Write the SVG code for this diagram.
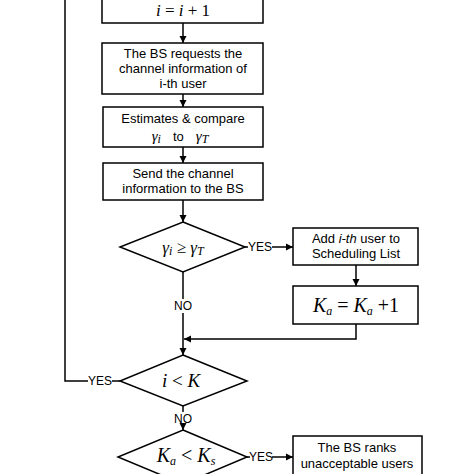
<svg xmlns="http://www.w3.org/2000/svg" width="474" height="474" viewBox="0 0 474 474">
<defs>
<marker id="ah" markerWidth="8" markerHeight="8" refX="7" refY="4" orient="auto" markerUnits="userSpaceOnUse">
<path d="M0,0.5 L7,4 L0,7.5 Z" fill="#000"/>
</marker>
<style>
.box{fill:#fff;stroke:#000;stroke-width:1.5}
.ln{fill:none;stroke:#000;stroke-width:1.5}
.t{font-family:"Liberation Sans",Arial,sans-serif;font-size:13px;text-anchor:middle;fill:#000}
.lb{font-family:"Liberation Sans",Arial,sans-serif;font-size:12px;text-anchor:middle;fill:#000}
.m{font-family:"Liberation Serif","Times New Roman",serif;font-size:19px;font-style:italic;text-anchor:middle;fill:#000}
.up{font-style:normal}
.sub{font-size:12px}
</style>
</defs>
<rect width="474" height="474" fill="#fff"/>
<g id="connectors">
<line class="ln" x1="183" y1="23" x2="183" y2="43" marker-end="url(#ah)"/>
<line class="ln" x1="183" y1="94" x2="183" y2="107" marker-end="url(#ah)"/>
<line class="ln" x1="183" y1="147" x2="183" y2="163" marker-end="url(#ah)"/>
<line class="ln" x1="183" y1="200" x2="183" y2="222" marker-end="url(#ah)"/>
<polyline class="ln" points="245,247 248,247"/>
<line class="ln" x1="272" y1="247" x2="293" y2="247" marker-end="url(#ah)"/>
<line class="ln" x1="356" y1="265" x2="356" y2="286" marker-end="url(#ah)"/>
<polyline class="ln" points="356,324 356,339 184,339" marker-end="url(#ah)"/>
<line class="ln" x1="183" y1="272" x2="183" y2="299"/>
<line class="ln" x1="183" y1="313" x2="183" y2="355" marker-end="url(#ah)"/>
<polyline class="ln" points="120,381 112,381"/>
<polyline class="ln" points="88,381 65,381 65,0"/>
<line class="ln" x1="183" y1="406" x2="183" y2="412"/>
<line class="ln" x1="183" y1="425" x2="183" y2="430" marker-end="url(#ah)"/>
<polyline class="ln" points="247,457 250,457"/>
<line class="ln" x1="272" y1="457" x2="293" y2="457" marker-end="url(#ah)"/>
<text class="lb" x="260" y="251">YES</text>
<text class="lb" x="183" y="310">NO</text>
<text class="lb" x="100" y="385">YES</text>
<text class="lb" x="183" y="423">NO</text>
<text class="lb" x="261" y="461">YES</text>
</g>
<g id="inc">
<rect class="box" x="102" y="-15" width="161" height="38"/>
<text class="m" x="183" y="16" style="font-size:17px">i <tspan class="up">= </tspan>i <tspan class="up">+ 1</tspan></text>
</g>
<g id="request">
<rect class="box" x="102" y="43" width="161" height="51"/>
<text class="t" x="183" y="58">The BS requests the</text>
<text class="t" x="183" y="73">channel information of</text>
<text class="t" x="183" y="88">i-th user</text>
</g>
<g id="estimate">
<rect class="box" x="103" y="107" width="160" height="40"/>
<text class="t" x="183" y="123">Estimates &amp; compare</text>
<text class="m" x="180" y="141" style="font-size:15px"><tspan>γ</tspan><tspan class="sub" dy="2">i</tspan><tspan dx="12" dy="-2" class="up" style="font-family:'Liberation Sans',Arial,sans-serif;font-size:13px">to</tspan><tspan dx="12">γ</tspan><tspan class="sub" dy="2">T</tspan></text>
</g>
<g id="send">
<rect class="box" x="103" y="163" width="160" height="37"/>
<text class="t" x="183" y="178">Send the channel</text>
<text class="t" x="183" y="193">information to the BS</text>
</g>
<g id="cmp">
<polygon class="box" points="183,222 245,247 183,272 120,247"/>
<text class="m" x="183" y="253" style="font-size:17px">γ<tspan class="sub" dy="2">i</tspan><tspan class="up" dy="-2"> ≥ </tspan>γ<tspan class="sub" dy="2">T</tspan></text>
</g>
<g id="add">
<rect class="box" x="293" y="228" width="125" height="37"/>
<text class="t" x="356" y="243">Add <tspan font-style="italic">i-th</tspan> user to</text>
<text class="t" x="356" y="258">Scheduling List</text>
</g>
<g id="kainc">
<rect class="box" x="293" y="286" width="125" height="38"/>
<text class="m" x="356" y="312" style="font-size:20px">K<tspan class="sub" dy="3">a</tspan><tspan class="up" dy="-3"> = </tspan>K<tspan class="sub" dy="3">a</tspan><tspan class="up" dy="-3"> +1</tspan></text>
</g>
<g id="iltk">
<polygon class="box" points="183,355 247,381 183,406 120,381"/>
<text class="m" x="181" y="387">i <tspan class="up">&lt;</tspan> K</text>
</g>
<g id="kalks">
<polygon class="box" points="183,430 247,457 183,484 118,457"/>
<text class="m" x="186" y="462" style="font-size:20px">K<tspan class="sub" dy="3">a</tspan><tspan class="up" dy="-3"> &lt; </tspan>K<tspan class="sub" dy="3">s</tspan></text>
</g>
<g id="rank">
<rect class="box" x="293" y="436" width="129" height="50"/>
<text class="t" x="357" y="452">The BS ranks</text>
<text class="t" x="357" y="468">unacceptable users</text>
</g>
</svg>
